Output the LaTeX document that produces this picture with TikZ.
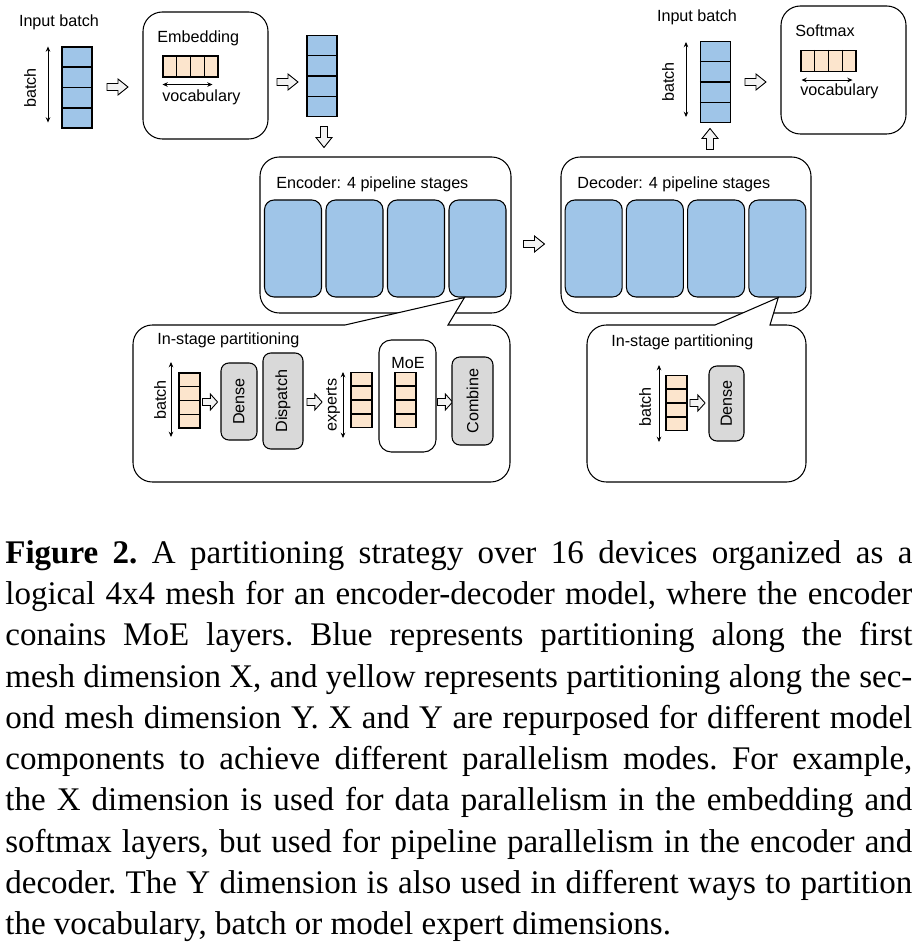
\documentclass[tikz,border=0pt]{standalone}
\usepackage{fontspec}
\setmainfont{Liberation Serif}
\setsansfont{Liberation Sans}
\usetikzlibrary{calc, positioning, arrows.meta}
\definecolor{stageBlue}{HTML}{9FC5E8}
\definecolor{cellOrange}{HTML}{FCE5CD}
\definecolor{opGray}{HTML}{D9D9D9}
\definecolor{arrowGray}{HTML}{F3F3F3}
\def\px{0.02cm}
\tikzset{
  panel/.style={draw, line width=0.6pt, rounded corners=11pt, inner sep=0pt},
  stagebox/.style={draw, fill=stageBlue, line width=0.6pt, rounded corners=5.5pt, minimum width=57*\px, minimum height=97*\px},
  bluecol/.style={draw, fill=stageBlue, line width=0.6pt, minimum width=30*\px, minimum height=81*\px, inner sep=0pt},
  orangecol/.style={draw, fill=cellOrange, line width=0.6pt, minimum width=21*\px, minimum height=55*\px, inner sep=0pt},
  orangerow/.style={draw, fill=cellOrange, line width=0.6pt, minimum width=55*\px, minimum height=21*\px, inner sep=0pt},
  opbox/.style={draw, fill=opGray, line width=0.6pt, rounded corners=4.5pt, inner sep=0pt, rotate=90},
  lbl/.style={font=\sffamily\fontsize{9.2pt}{11pt}\selectfont, inner sep=0pt},
  dim/.style={line width=0.5pt, {Stealth[length=3pt,width=2.6pt]}-{Stealth[length=3pt,width=2.6pt]}},
  hollow/.pic={\draw[fill=arrowGray, line width=0.5pt] (-10.5,-3.5) -- (0.5,-3.5) -- (0.5,-8) -- (10.5,0) -- (0.5,8) -- (0.5,3.5) -- (-10.5,3.5) -- cycle;}
}

\begin{document}
\begin{tikzpicture}[x=0.02cm, y=-0.02cm]
    \useasboundingbox (0,0) rectangle (917,952);

    % Input batch + embedding
    \node[lbl] (inTitle) at (59,22) {Input batch};
    \node[bluecol] (inA) at (77,87.5) {};
    \draw[dim] ([xshift=-29*\px]inA.north) -- ([xshift=-29*\px, yshift=6*\px]inA.south);
    \node[lbl, rotate=90] (inBatch) at (30,88) {batch};
    \pic at (117.5,87) {hollow};

    \node[panel, minimum width=125*\px, minimum height=127*\px] (emb) at (205.5,75.5) {};
    \node[lbl, anchor=west] (embTitle) at (157,38) {Embedding};
    \node[orangerow] (embVoc) at (190.5,66.5) {};
    \draw[dim] ([yshift=-7*\px]embVoc.south west) -- ([yshift=-7*\px, xshift=-6*\px]embVoc.south east);
    \node[lbl, anchor=west] (embLbl) at (162,97) {vocabulary};

    \pic at (287.5,82) {hollow};
    \node[bluecol] (embOut) at (322,76) {};
    \pic[rotate=-90] at (324,137) {hollow};

    % Encoder
    \node[panel, minimum width=251*\px, minimum height=156*\px] (enc) at (385.5,235) {};
    \node[lbl, anchor=west] (encTitle) at (276,184) {Encoder: 4 pipeline stages};
    \foreach \i in {1,...,4}
        \node[stagebox] (enc\i) at ({231.5+61.5*\i},248.5) {};

    \pic at (534,244) {hollow};

    % Decoder
    \node[panel, minimum width=250*\px, minimum height=156*\px] (dec) at (686,235) {};
    \node[lbl, anchor=west] (decTitle) at (577,184) {Decoder: 4 pipeline stages};
    \foreach \i in {1,...,4}
        \node[stagebox] (dec\i) at ({532.5+61.2*\i},248.5) {};

    % Output batch + softmax
    \pic[rotate=90] at (710,139) {hollow};
    \node[lbl] (outTitle) at (697,17) {Input batch};
    \node[bluecol] (decIn) at (715.5,82) {};
    \draw[dim] ([xshift=-29.5*\px, yshift=-1*\px]decIn.north) -- ([xshift=-29.5*\px, yshift=6*\px]decIn.south);
    \node[lbl, rotate=90] (outBatch) at (668,82) {batch};
    \pic at (755.5,82) {hollow};

    \node[panel, minimum width=125*\px, minimum height=128*\px] (soft) at (843.5,70) {};
    \node[lbl, anchor=west] (softTitle) at (795,31) {Softmax};
    \node[orangerow] (softVoc) at (828.5,61) {};
    \draw[dim] ([yshift=-8*\px, xshift=1*\px]softVoc.south west) -- ([yshift=-8*\px, xshift=-4*\px]softVoc.south east);
    \node[lbl, anchor=west] (softLbl) at (800,91) {vocabulary};

    % In-stage partitioning (encoder)
    \coordinate (encTip) at ($(enc4.south west)+(16,0)$);
    \draw[line width=0.6pt, fill=white] (345,325) [rounded corners=11pt] -- (133,325) -- (133,482) -- (510,482) -- (510,325) [sharp corners] -- (448,325) -- (encTip) -- cycle;
    \node[lbl, anchor=west] (isTitleA) at (157,340) {In-stage partitioning};
    \draw[dim] (171,362) -- (171,437);
    \node[lbl, rotate=90] (isBatchA) at (160,400) {batch};
    \node[orangecol] (isA) at (189.5,400.5) {};
    \pic[xscale=0.72] at (210,402) {hollow};
    \node[opbox, minimum width=77*\px, minimum height=36*\px] (denseA) at (239,401.5) {\sffamily\fontsize{9.2pt}{11pt}\selectfont Dense};
    \node[opbox, minimum width=96*\px, minimum height=40*\px] (dispatch) at (283,401) {\sffamily\fontsize{9.2pt}{11pt}\selectfont Dispatch};
    \pic[xscale=0.72] at (314.5,402) {hollow};
    \draw[dim] (343,372) -- (343,438);
    \node[lbl, rotate=90] (isExperts) at (333,405) {experts};
    \node[orangecol] (isB) at (361.5,400) {};
    \node[panel, fill=white, rounded corners=7pt, minimum width=57*\px, minimum height=112*\px] (moe) at (407.5,396) {};
    \node[lbl] (moeTitle) at (408,363) {MoE};
    \node[orangecol] (moeCol) at (405.5,400) {};
    \pic[xscale=0.72] at (445,402) {hollow};
    \node[opbox, minimum width=88*\px, minimum height=41*\px] (combine) at (472.5,401) {\sffamily\fontsize{9.2pt}{11pt}\selectfont Combine};

    % In-stage partitioning (decoder)
    \coordinate (decTip) at ($(dec4.south west)+(30,0)$);
    \draw[line width=0.6pt, fill=white] (715,325) [rounded corners=11pt] -- (587,325) -- (587,482) -- (806,482) -- (806,325) [sharp corners] -- (770,325) -- (decTip) -- cycle;
    \node[lbl, anchor=west] (isTitleB) at (611,342) {In-stage partitioning};
    \draw[dim] (659,365) -- (659,442);
    \node[lbl, rotate=90] (isBatchB) at (645,407) {batch};
    \node[orangecol] (isC) at (676.5,403) {};
    \pic[xscale=0.72] at (697.5,403) {hollow};
    \node[opbox, minimum width=75*\px, minimum height=35*\px] (denseB) at (726.5,403.5) {\sffamily\fontsize{9.2pt}{11pt}\selectfont Dense};

    % Cell dividers
    \foreach \c in {inA,embOut,decIn,isA,isB,moeCol,isC}
        \foreach \k in {1,2,3}
            \draw[line width=0.6pt] ($(\c.north west)!\k/4!(\c.south west)$) -- ($(\c.north east)!\k/4!(\c.south east)$);
    \foreach \c in {embVoc,softVoc}
        \foreach \k in {1,2,3}
            \draw[line width=0.6pt] ($(\c.north west)!\k/4!(\c.north east)$) -- ($(\c.south west)!\k/4!(\c.south east)$);

    % Caption
    \node[anchor=north west, inner sep=0pt, text width=907*\px, align=justify, font=\fontsize{18.8pt}{23.5pt}\selectfont\frenchspacing] (caption) at (5,534) {\strut\textbf{Figure 2.} A partitioning strategy over 16 devices organized as a\linebreak
    logical 4x4 mesh for an encoder-decoder model, where the encoder\linebreak
    conains MoE layers. Blue represents partitioning along the first\linebreak
    mesh dimension X, and yellow represents partitioning along the sec-\linebreak
    ond mesh dimension Y. X and Y are repurposed for different model\linebreak
    components to achieve different parallelism modes. For example,\linebreak
    the X dimension is used for data parallelism in the embedding and\linebreak
    softmax layers, but used for pipeline parallelism in the encoder and\linebreak
    decoder. The Y dimension is also used in different ways to partition\linebreak
    the vocabulary, batch or model expert dimensions.};
\end{tikzpicture}
\end{document}
